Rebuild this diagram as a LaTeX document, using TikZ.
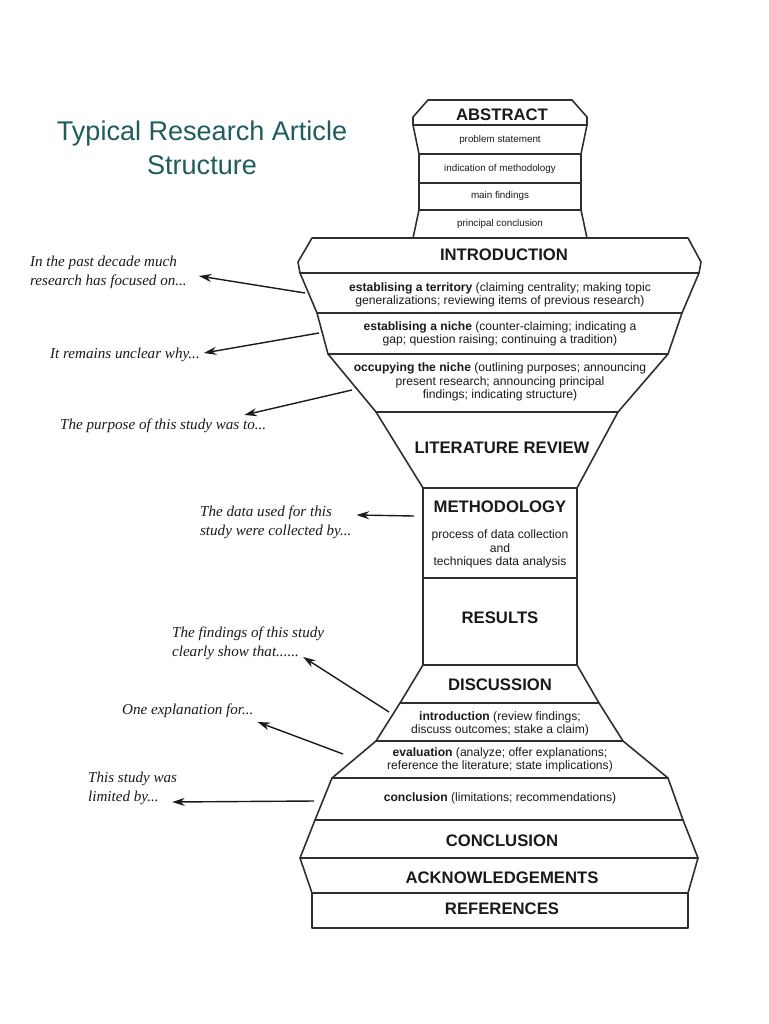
\documentclass[tikz,border=0pt]{standalone}
\usepackage{fontspec}
\setsansfont{Liberation Sans}
\newfontfamily\notefont{Liberation Serif}
\usetikzlibrary{arrows.meta,calc}
\definecolor{inkDark}{HTML}{1A1A1A}
\definecolor{edgeGrey}{HTML}{2E2E2E}
\definecolor{titleTeal}{HTML}{1F5C5C}

\begin{document}
\begin{tikzpicture}[
  x=0.02cm, y=-0.02cm,
  font=\sffamily,
  band/.style={draw=edgeGrey, line width=0.9pt, fill=white, line join=round},
  headtxt/.style={font=\sffamily\bfseries\fontsize{9.5}{11}\selectfont,
                  text=inkDark, inner sep=1pt},
  abstxt/.style={font=\sffamily\fontsize{5.6}{6.5}\selectfont,
                 text=inkDark, inner sep=1pt},
  subtxt/.style={font=\sffamily\fontsize{6.9}{7.8}\selectfont,
                 text=inkDark, align=center, inner sep=1pt},
  notetxt/.style={font=\notefont\itshape\fontsize{8.6}{10.8}\selectfont,
                  text=inkDark, align=left, anchor=west, inner sep=1pt},
  titletxt/.style={font=\sffamily\fontsize{15.4}{19.4}\selectfont,
                   text=titleTeal, align=center},
  pointer/.style={-{Stealth[length=2.5mm,width=1.6mm]}, line width=0.8pt,
                  draw=inkDark},
]
\useasboundingbox (0,0) rectangle (768,1024);

% =============================== funnel ====================================
% abstract
\draw[band] (428,100) -- (572,100) -- (587,117) -- (587,125) -- (413,125)
  -- (413,117) -- cycle;
\draw[band] (413,125) -- (587,125) -- (581,154) -- (419,154) -- cycle;
\draw[band] (419,154) -- (581,154) -- (581,183) -- (419,183) -- cycle;
\draw[band] (419,183) -- (581,183) -- (581,210) -- (419,210) -- cycle;
\draw[band] (419,210) -- (581,210) -- (587,238) -- (413,238) -- cycle;

% introduction
\draw[band] (312,238) -- (688,238) -- (701,262) -- (699,273) -- (300,273)
  -- (298,262) -- cycle;
\draw[band] (300,273) -- (699,273) -- (682,313) -- (317,313) -- cycle;
\draw[band] (317,313) -- (682,313) -- (668,354) -- (328,354) -- cycle;
\draw[band] (328,354) -- (668,354) -- (618,412) -- (376,412) -- cycle;

% literature review, methodology, results
\draw[band] (376,412) -- (618,412) -- (577,488) -- (423,488) -- cycle;
\draw[band] (423,488) rectangle (577,578);
\draw[band] (423,578) rectangle (577,665);

% discussion
\draw[band] (423,665) -- (577,665) -- (599,703) -- (400,703) -- cycle;
\draw[band] (400,703) -- (599,703) -- (623,741) -- (376,741) -- cycle;
\draw[band] (376,741) -- (623,741) -- (668,778) -- (332,778) -- cycle;
\draw[band] (332,778) -- (668,778) -- (683,820) -- (315,820) -- cycle;

% conclusion, acknowledgements, references
\draw[band] (315,820) -- (683,820) -- (698,858) -- (300,858) -- cycle;
\draw[band] (300,858) -- (698,858) -- (688,893) -- (312,893) -- cycle;
\draw[band] (312,893) rectangle (688,928);

% =============================== nodes =====================================
\node[titletxt] at (202,148) (title) {Typical Research Article\\Structure};

\node[headtxt] at (502,115) (abs)  {ABSTRACT};
\node[abstxt]  at (500,140) (abs1) {problem statement};
\node[abstxt]  at (500,169) (abs2) {indication of methodology};
\node[abstxt]  at (500,196) (abs3) {main findings};
\node[abstxt]  at (500,224) (abs4) {principal conclusion};

\node[headtxt] at (504,255) (intro) {INTRODUCTION};
\node[subtxt]  at (500,295) (terr)  {\textbf{establising a territory} (claiming
  centrality; making topic\\generalizations; reviewing items of previous research)};
\node[subtxt]  at (500,334) (niche) {\textbf{establising a niche} (counter-claiming;
  indicating a\\gap; question raising; continuing a tradition)};
\node[subtxt]  at (500,382) (occupy) {\textbf{occupying the niche} (outlining
  purposes; announcing\\present research; announcing principal\\findings;
  indicating structure)};

\node[headtxt] at (502,448) (lit)    {LITERATURE REVIEW};
\node[headtxt] at (500,507) (method) {METHODOLOGY};
\node[subtxt]  at (500,549) (methsub) {process of data collection\\and\\techniques
  data analysis};
\node[headtxt] at (500,618) (results) {RESULTS};

\node[headtxt] at (500,685) (disc)   {DISCUSSION};
\node[subtxt]  at (500,724) (dintro) {\textbf{introduction} (review findings;\\discuss
  outcomes; stake a claim)};
\node[subtxt]  at (500,760) (deval)  {\textbf{evaluation} (analyze; offer
  explanations;\\reference the literature; state implications)};
\node[subtxt]  at (500,798) (dconc)  {\textbf{conclusion} (limitations;
  recommendations)};

\node[headtxt] at (502,841) (concl) {CONCLUSION};
\node[headtxt] at (502,878) (ack)   {ACKNOWLEDGEMENTS};
\node[headtxt] at (502,909) (refs)  {REFERENCES};

% sample phrases on the left
\node[notetxt] at (28,272)  (past)     {In the past decade much\\research has
  focused on...};
\node[notetxt] at (48,355)  (unclear)  {It remains unclear why...};
\node[notetxt] at (58,426)  (purpose)  {The purpose of this study was to...};
\node[notetxt] at (198,522) (data)     {The data used for this\\study were
  collected by...};
\node[notetxt] at (170,643) (findings) {The findings of this study\\clearly show
  that......};
\node[notetxt] at (120,711) (explan)   {One explanation for...};
\node[notetxt] at (86,788)  (limited)  {This study was\\limited by...};

% start points on the funnel
\coordinate (fromTerr)     at (305,293);
\coordinate (fromNiche)    at (319,333);
\coordinate (fromOccupy)   at (352,390);
\coordinate (fromMethod)   at (414,516);
\coordinate (fromDisIntro) at (389,712);
\coordinate (fromEval)     at (343,754);
\coordinate (fromDisConc)  at (314,801);

% =============================== pointers ==================================
\draw[pointer] (fromTerr)     -- ($(past.east)+(10,4)$);
\draw[pointer] (fromNiche)    -- ($(unclear.east)+(2,-2)$);
\draw[pointer] (fromOccupy)   -- ($(purpose.east)+(-24,-11)$);
\draw[pointer] (fromMethod)   -- ($(data.east)+(3,-7)$);
\draw[pointer] (fromDisIntro) -- ($(findings.east)+(-23,14)$);
\draw[pointer] (fromEval)     -- ($(explan.east)+(2,11)$);
\draw[pointer] (fromDisConc)  -- ($(limited.east)+(-7,14)$);

\end{tikzpicture}
\end{document}
